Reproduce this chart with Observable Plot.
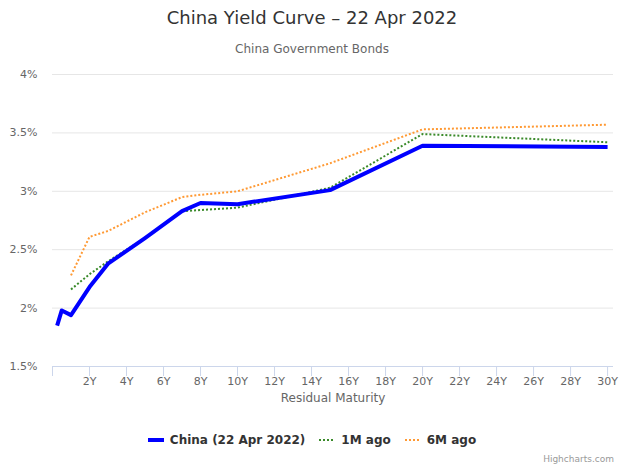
<!DOCTYPE html>
<html>
<head>
<meta charset="utf-8">
<script src="https://cdn.jsdelivr.net/npm/d3@7"></script>
<script src="https://cdn.jsdelivr.net/npm/@observablehq/plot@0.6"></script>
<style>
  html, body { margin: 0; padding: 0; background: #fff; }
  body { width: 624px; height: 468px; overflow: hidden; font-family: "DejaVu Sans", sans-serif; }
  #wrap { position: relative; width: 624px; height: 468px; }
  #header { position: relative; height: 60px; }
  #title { position: absolute; left: 0; right: 0; top: 6px; text-align: center; font-size: 18px; line-height: 24px; color: #333; }
  #subtitle { position: absolute; left: 0; right: 0; top: 41px; text-align: center; font-size: 12px; line-height: 16px; color: #666; }
  #chart { height: 350px; }
  #chart svg { display: block; }
  #legend { position: absolute; top: 431px; left: 0; right: 0; display: flex; justify-content: center; align-items: center; font-size: 12px; font-weight: bold; color: #333; line-height: 18px; }
  .item { display: flex; align-items: center; margin: 0 7px; }
  .item svg { margin-right: 6px; }
  #credits { position: absolute; right: 10px; top: 453px; font-size: 9px; color: #999; line-height: 12px; }
</style>
</head>
<body>
<div id="wrap">
  <div id="header">
    <div id="title">China Yield Curve – 22 Apr 2022</div>
    <div id="subtitle">China Government Bonds</div>
  </div>
  <div id="chart"></div>
  <div id="legend"></div>
  <div id="credits">Highcharts.com</div>
</div>
<script>
// Data
const chinaMaturities = [0.25, 0.5, 1, 2, 3, 5, 7, 8, 10, 15, 20, 30];
const chinaYields     = [1.85, 1.98, 1.94, 2.18, 2.38, 2.60, 2.83, 2.90, 2.89, 3.01, 3.39, 3.38];
const agoMaturities   = [1, 2, 3, 5, 7, 8, 10, 15, 20, 30];
const oneMonthYields  = [2.16, 2.29, 2.40, 2.60, 2.83, 2.84, 2.86, 3.03, 3.49, 3.42];
const sixMonthYields  = [2.28, 2.61, 2.66, 2.82, 2.95, 2.97, 3.00, 3.24, 3.53, 3.57];
const xTicks = [0, 2, 4, 6, 8, 10, 12, 14, 16, 18, 20, 22, 24, 26, 28, 30];
const yTicks = [1.5, 2, 2.5, 3, 3.5, 4];
const seriesNames = ["China (22 Apr 2022)", "1M ago", "6M ago"];

const china = chinaMaturities.map((m, i) => ({m, y: chinaYields[i]}));
const oneM = agoMaturities.map((m, i) => ({m, y: oneMonthYields[i]}));
const sixM = agoMaturities.map((m, i) => ({m, y: sixMonthYields[i]}));

const colors = ["#0000ff", "#3a8a2a", "#ff9933"];

const plot = Plot.plot({
  width: 624,
  height: 350,
  marginLeft: 52,
  marginRight: 11,
  marginTop: 14,
  marginBottom: 44,
  style: {fontFamily: "DejaVu Sans, sans-serif", background: "transparent"},
  x: {domain: [0, 30.32]},
  y: {domain: [1.5, 4]},
  marks: [
    Plot.gridY(yTicks, {stroke: "#e6e6e6", strokeOpacity: 1}),
    Plot.axisY(yTicks, {tickSize: 0, tickPadding: 15, tickFormat: d => d + "%", fill: "#666", fontSize: 11, label: null}),
    Plot.ruleY([1.5], {stroke: "#ccd6eb", strokeWidth: 1}),
    Plot.axisX(xTicks, {tickSize: 10, tickPadding: 1, stroke: "#ccd6eb", strokeOpacity: 1, tickFormat: d => d === 0 ? "" : d + "Y", fill: "#666", fontSize: 11, label: null}),
    Plot.text(["Residual Maturity"], {frameAnchor: "bottom", dy: 35, fill: "#666", fontSize: 12}),
    Plot.line(sixM, {x: "m", y: "y", stroke: colors[2], strokeWidth: 2, strokeDasharray: "2,2", strokeLinecap: "butt", strokeLinejoin: "miter"}),
    Plot.line(oneM, {x: "m", y: "y", stroke: colors[1], strokeWidth: 2, strokeDasharray: "2,2", strokeLinecap: "butt", strokeLinejoin: "miter"}),
    Plot.line(china, {x: "m", y: "y", stroke: colors[0], strokeWidth: 4, strokeLinecap: "butt", strokeLinejoin: "round"})
  ]
});
document.getElementById("chart").appendChild(plot);

const legend = document.getElementById("legend");
seriesNames.forEach((name, i) => {
  const item = document.createElement("div");
  item.className = "item";
  const dash = i === 0 ? "" : 'stroke-dasharray="2,2"';
  const sw = i === 0 ? 4 : 2;
  item.innerHTML = `<svg width="16" height="12"><line x1="0" x2="16" y1="6" y2="6" stroke="${colors[i]}" stroke-width="${sw}" ${dash}/></svg><span>${name}</span>`;
  legend.appendChild(item);
});
</script>
</body>
</html>
